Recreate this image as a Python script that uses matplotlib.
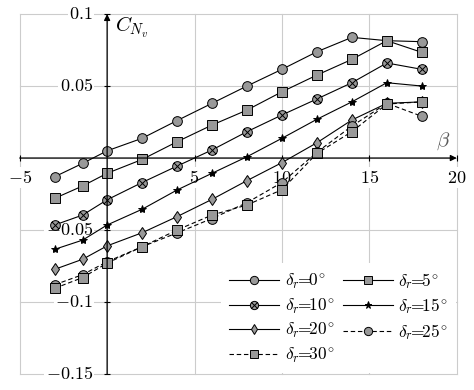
import numpy as np
import matplotlib
matplotlib.use("Agg")
import matplotlib.pyplot as plt
from matplotlib.path import Path

plt.rcParams['mathtext.fontset'] = 'cm'
plt.rcParams['font.family'] = 'DejaVu Serif'

#---------------------------------------------------
# data
beta = [-3, -1.4, 0, 2, 4, 6, 8, 10, 12, 14, 16, 18]

cn_0 = [-0.013, -0.0037, 0.005, 0.0137, 0.026, 0.038, 0.050, 0.0616, 0.0738, 0.0838, 0.0815, 0.0808]
cn_5 = [-0.028, -0.0194, -0.0106, -0.001, 0.0113, 0.0229, 0.0333, 0.046, 0.0576, 0.0685, 0.0815, 0.0734]
cn_10 = [-0.0465, -0.0396, -0.029, -0.017, -0.0056, 0.0056, 0.0183, 0.0299, 0.041, 0.0523, 0.066, 0.0616]
cn_15 = [-0.0634, -0.057, -0.0465, -0.0356, -0.0222, -0.0106, 0.0009, 0.0137, 0.0269, 0.039, 0.0523, 0.050]
cn_20 = [-0.0773, -0.0703, -0.061, -0.0519, -0.0407, -0.0287, -0.0157, -0.0032, 0.0106, 0.0264, 0.038, 0.039]
cn_25 = [-0.088, -0.081, -0.072, -0.0616, -0.052, -0.042, -0.031, -0.017, 0.004, 0.0222, 0.038, 0.029]
cn_30 = [-0.0905, -0.083, -0.073, -0.0616, -0.050, -0.0396, -0.0326, -0.022, 0.0032, 0.0183, 0.0375, 0.039]

delta_r = [0, 5, 10, 15, 20, 25, 30]
labels = [r'$\delta_r\!\!=\!\!%d^{\!\circ}$' % d for d in delta_r]

xticks = [-5, 5, 10, 15, 20]
yticks = [0.1, 0.05, -0.05, -0.1, -0.15]

#---------------------------------------------------
# circle with a cross inside
circ = Path.unit_circle()
cross = Path([(-0.707, -0.707), (0.707, 0.707), (-0.707, 0.707), (0.707, -0.707)],
             [Path.MOVETO, Path.LINETO, Path.MOVETO, Path.LINETO])
otimes = Path.make_compound_path(circ, cross)

gray = '0.6'
lw = 0.8

fig = plt.figure(figsize=(4.74, 3.9), dpi=100)
ax = fig.add_axes([0.0416, 0.041, 0.922, 0.923])
ax.set_xlim(-5, 20)
ax.set_ylim(-0.15, 0.1)
for s in ax.spines.values():
  s.set_visible(False)
ax.set_xticks([-5, 0, 5, 10, 15, 20])
ax.set_yticks([-0.15, -0.1, -0.05, 0, 0.05, 0.1])
ax.tick_params(length=0, labelbottom=False, labelleft=False)
ax.grid(True, color='#cccccc', lw=0.8)
for ln in ax.get_xgridlines() + ax.get_ygridlines():
  ln.set_clip_on(False)
ax.set_axisbelow(True)

# axis lines with arrows
ax.annotate('', xy=(20, 0), xytext=(-5, 0),
            arrowprops=dict(arrowstyle='-|>', lw=0.9, color='k', shrinkA=0, shrinkB=0,
                            mutation_scale=9), annotation_clip=False)
ax.annotate('', xy=(0, 0.1), xytext=(0, -0.15),
            arrowprops=dict(arrowstyle='-|>', lw=0.9, color='k', shrinkA=0, shrinkB=0,
                            mutation_scale=9), annotation_clip=False)
ax.plot(xticks, [0]*len(xticks), ls='none', marker='|', ms=5, mew=0.8, color='k', clip_on=False)
ax.plot([0]*len(yticks), yticks, ls='none', marker='_', ms=5, mew=0.8, color='k', clip_on=False)

bb = dict(facecolor='white', edgecolor='none', pad=1.0)
for xv in xticks:
  ax.text(xv, -0.0138, r'$%g$' % xv, ha='center', va='center', fontsize=13, bbox=bb, zorder=1)
for yv in yticks:
  ax.text(-0.82, yv, r'$%g$' % yv, ha='right', va='center', fontsize=13, bbox=bb, zorder=1)

ax.text(0.45, 0.0905, r'$C_{N_v}$', ha='left', va='center', fontsize=15)
ax.text(19.2, 0.012, r'$\beta$', ha='center', va='center', fontsize=15, color='0.35')

kw = dict(color='k', lw=lw, mec='k', mew=0.7, clip_on=False)
h0, = ax.plot(beta, cn_0, marker='o', ms=7, mfc=gray, label=labels[0], **kw)
h5, = ax.plot(beta, cn_5, marker='s', ms=7, mfc=gray, label=labels[1], **kw)
h10, = ax.plot(beta, cn_10, marker=otimes, ms=7, mfc=gray, label=labels[2], **kw)
h15, = ax.plot(beta, cn_15, marker='*', ms=6, mfc='k', label=labels[3], **kw)
h20, = ax.plot(beta, cn_20, marker='d', ms=6.5, mfc=gray, label=labels[4], **kw)
h25, = ax.plot(beta, cn_25, marker='o', ms=7, mfc=gray, ls=(0, (4, 2.5)), label=labels[5], **kw)
h30, = ax.plot(beta, cn_30, marker='s', ms=7, mfc=gray, ls=(0, (4, 2.5)), label=labels[6], **kw)

# row-wise order in two columns
order = [h0, h10, h20, h30, h5, h15, h25]
leg = ax.legend(handles=order, loc='lower right', bbox_to_anchor=(0.998, 0.003), borderaxespad=0,
                ncol=2, fontsize=12.5, handlelength=2.9, handletextpad=0.3, columnspacing=0.5,
                labelspacing=0.32, markerscale=0.85, fancybox=False, framealpha=1,
                edgecolor='none', borderpad=0.45)

fig.savefig("out.png")
plt.close()
